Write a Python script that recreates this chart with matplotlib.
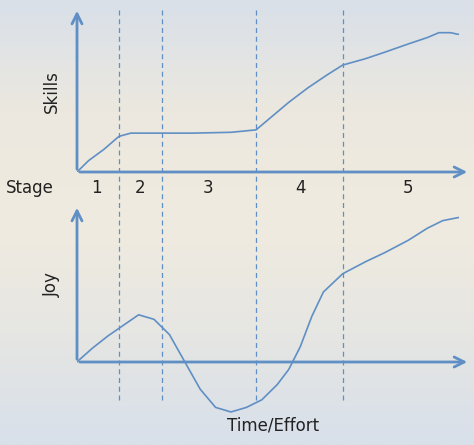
import numpy as np
import matplotlib.pyplot as plt
from matplotlib.colors import LinearSegmentedColormap

# --- Data (time/effort 0..100) ---
skills_t = [0, 3, 7, 10.9, 14, 20, 30, 40, 46.5, 50, 55, 60, 65, 69, 75, 80, 86, 91, 94, 97, 99]
skills_v = [0, 7, 14, 22, 24, 24, 24, 24.5, 26, 33, 43, 52, 60, 66, 70, 74, 79, 83, 86, 86, 85]
joy_t = [0, 4, 8, 12, 16, 20, 24, 28, 32, 36, 40, 44, 48, 52, 55, 58, 61, 64, 69, 75, 80, 86, 91, 95, 99]
joy_v = [0, 9, 17, 24, 31, 28, 18, 0, -18, -30, -33, -30, -25, -15, -5, 10, 30, 46, 58, 66, 72, 80, 88, 93, 95]
stage_bounds = [10.9, 22, 46.5, 69]
stage_pos = [5, 16.5, 34, 58, 86]
stage_names = ['1', '2', '3', '4', '5']

W, H = 474, 445
blue = '#5f8fc4'
fig = plt.figure(figsize=(W / 100, H / 100), dpi=100)

# background gradient
bg = fig.add_axes([0, 0, 1, 1])
cmap = LinearSegmentedColormap.from_list('bg', ['#d9e0e9', '#ece8df', '#f0ebdf', '#e6e6e3', '#d8e0ea'])
bg.imshow(np.linspace(0, 1, 200).reshape(-1, 1), aspect='auto', cmap=cmap, extent=[0, 1, 0, 1])
bg.axis('off')

def px_axes(x0, y0, x1, y1):
    return fig.add_axes([x0 / W, 1 - y1 / H, (x1 - x0) / W, (y1 - y0) / H])

# overlay in pixel coordinates for arrows, dashed lines, labels
ov = fig.add_axes([0, 0, 1, 1], facecolor='none')
ov.set_xlim(0, W); ov.set_ylim(H, 0); ov.axis('off')
xpx = lambda t: 77 + 3.85 * t
for b in stage_bounds:
    ov.plot([xpx(b)] * 2, [10, 400], ls=(0, (4, 3)), color=blue, lw=0.9)
arr = dict(arrowstyle='->', color=blue, lw=2, mutation_scale=18)
for (x0, y0, x1, y1) in [(77, 172, 77, 8), (77, 172, 470, 172), (77, 362, 77, 205), (77, 362, 470, 362)]:
    ov.annotate('', xy=(x1, y1), xytext=(x0, y0), arrowprops=arr)
ov.text(30, 188, 'Stage', fontsize=12, ha='center', va='center', color='#222')
for p, n in zip(stage_pos, stage_names):
    ov.text(xpx(p), 188, n, fontsize=12, ha='center', va='center', color='#222')
ov.text(52, 92, 'Skills', fontsize=12, rotation=90, ha='center', va='center', color='#222')
ov.text(52, 285, 'Joy', fontsize=12, rotation=90, ha='center', va='center', color='#222')
ov.text(273, 425, 'Time/Effort', fontsize=12, ha='center', va='center', color='#222')

# skills curve
a1 = px_axes(77, 10, 462, 172)
a1.plot(skills_t, skills_v, color=blue, lw=1.2)
a1.set_xlim(0, 100); a1.set_ylim(0, 100); a1.axis('off'); a1.patch.set_alpha(0)

# joy curve
a2 = px_axes(77, 210, 462, 415)
a2.plot(joy_t, joy_v, color=blue, lw=1.2)
a2.set_xlim(0, 100); a2.set_ylim(-35, 100); a2.axis('off'); a2.patch.set_alpha(0)

fig.savefig('out.png', dpi=100)
